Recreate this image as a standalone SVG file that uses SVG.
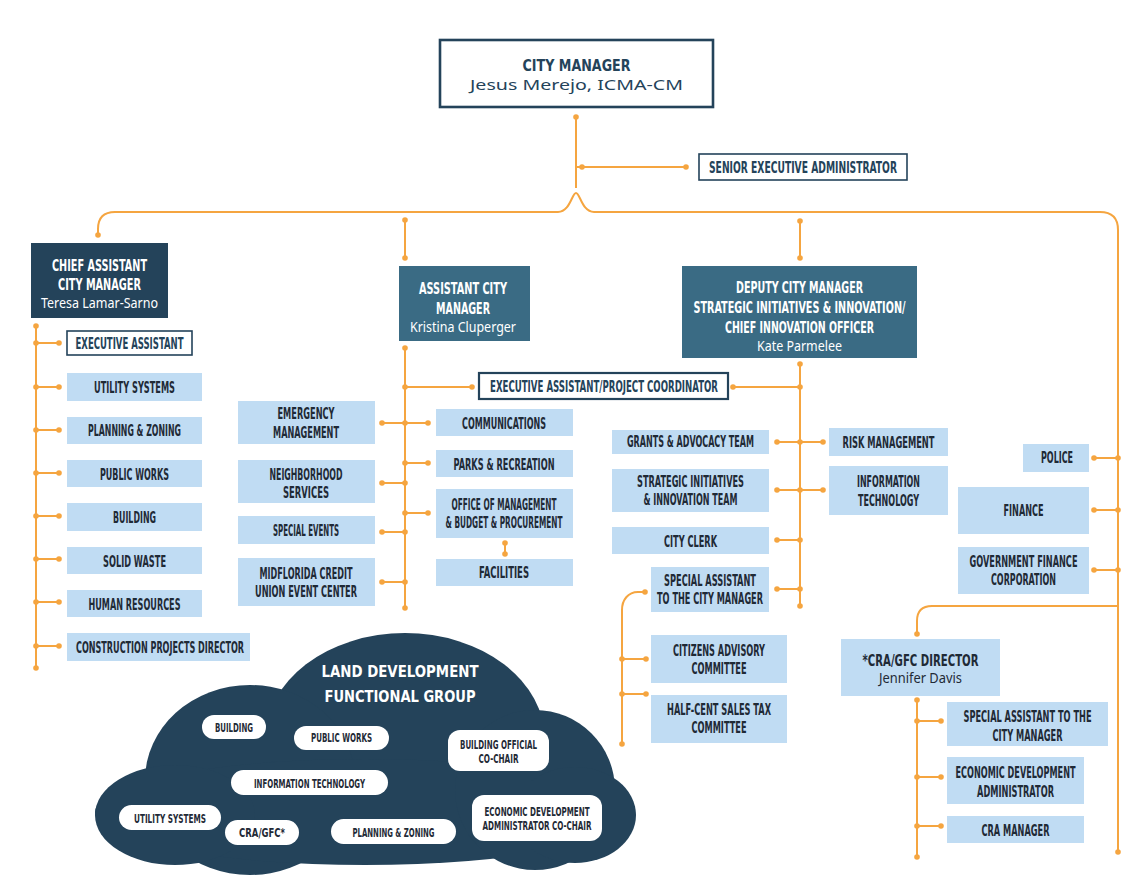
<svg xmlns="http://www.w3.org/2000/svg" width="1138" height="877" viewBox="0 0 1138 877">
<style>
.ln{fill:none;stroke:#f5a540;stroke-width:2}
.dot{fill:#f5a540}
.lb{fill:#c0dcf3}
.dk{fill:#24435a}
.tl{fill:#3a6b84}
.ob{fill:#fff;stroke:#24435a;stroke-width:1.6}
.pill{fill:#fff}
.t{font-family:"DejaVu Sans Condensed","Liberation Sans Narrow","Liberation Sans",sans-serif;font-weight:bold;text-anchor:middle;font-size:15px}
.nm{font-family:"Noto Sans","Open Sans","Liberation Sans",sans-serif;font-weight:normal;text-anchor:middle;font-size:13.5px}
.td{fill:#1f2a36}
.tw{fill:#fff}
.tn{fill:#24435a}
.s{font-size:12.5px}
</style>
<rect width="1138" height="877" fill="#fff"/>

<g id="connectors">
<path class="ln" d="M576,117 V188"/>
<path class="ln" d="M98,235 V229 Q98,212 115,212 H558 C570,212 572,193 576,193 C580,193 582,212 594,212 H1100 Q1118,212 1118,230 V852"/>
<path class="ln" d="M576,167 H686"/>
<path class="ln" d="M405,220 V258"/>
<path class="ln" d="M800,221 V258"/>
<path class="ln" d="M36,326 V668 M36,343 H59 M36,387 H59 M36,430 H59 M36,473 H59 M36,516 H59 M36,559 H59 M36,602 H59 M36,646 H59"/>
<path class="ln" d="M405,348 V608 M405,387 H472 M382,423 H428 M405,463 H428 M382,483 H405 M405,513 H428 M382,532 H405 M382,582 H405 M505,543 V554"/>
<path class="ln" d="M733,387 H800"/>
<path class="ln" d="M800,364 V606 M777,442 H823 M777,490 H823 M777,540 H800 M777,589 H800"/>
<path class="ln" d="M645,592 H638 C628,592 622,600 622,610 V744 M622,659 H646 M622,694 H646"/>
<path class="ln" d="M1094,458 H1118 M1094,510 H1118 M1094,570 H1118"/>
<path class="ln" d="M1118,606 H932 Q917,606 917,621 V634"/>
<path class="ln" d="M917,700 V857 M917,721 H941 M917,777 H941 M917,826 H941"/>
<g class="dot">
<circle cx="576" cy="117" r="2.8"/><circle cx="582" cy="167" r="2.8"/><circle cx="686" cy="167" r="2.8"/>
<circle cx="98" cy="235" r="2.8"/><circle cx="405" cy="220" r="2.8"/><circle cx="405" cy="258" r="2.8"/>
<circle cx="800" cy="221" r="2.8"/><circle cx="800" cy="258" r="2.8"/><circle cx="1118" cy="852" r="2.8"/>
<circle cx="36" cy="326" r="2.8"/><circle cx="36" cy="668" r="2.8"/>
<circle cx="36" cy="343" r="2.8"/><circle cx="59" cy="343" r="2.8"/>
<circle cx="36" cy="387" r="2.8"/><circle cx="59" cy="387" r="2.8"/>
<circle cx="36" cy="430" r="2.8"/><circle cx="59" cy="430" r="2.8"/>
<circle cx="36" cy="473" r="2.8"/><circle cx="59" cy="473" r="2.8"/>
<circle cx="36" cy="516" r="2.8"/><circle cx="59" cy="516" r="2.8"/>
<circle cx="36" cy="559" r="2.8"/><circle cx="59" cy="559" r="2.8"/>
<circle cx="36" cy="602" r="2.8"/><circle cx="59" cy="602" r="2.8"/>
<circle cx="36" cy="646" r="2.8"/><circle cx="59" cy="646" r="2.8"/>
<circle cx="405" cy="348" r="2.8"/><circle cx="405" cy="608" r="2.8"/>
<circle cx="405" cy="387" r="2.8"/><circle cx="472" cy="387" r="2.8"/>
<circle cx="382" cy="423" r="2.8"/><circle cx="405" cy="423" r="2.8"/><circle cx="428" cy="423" r="2.8"/>
<circle cx="405" cy="463" r="2.8"/><circle cx="428" cy="463" r="2.8"/>
<circle cx="382" cy="483" r="2.8"/><circle cx="405" cy="483" r="2.8"/>
<circle cx="405" cy="513" r="2.8"/><circle cx="428" cy="513" r="2.8"/>
<circle cx="382" cy="532" r="2.8"/><circle cx="405" cy="532" r="2.8"/>
<circle cx="382" cy="582" r="2.8"/><circle cx="405" cy="582" r="2.8"/>
<circle cx="505" cy="543" r="2.8"/><circle cx="505" cy="554" r="2.8"/>
<circle cx="733" cy="387" r="2.8"/><circle cx="800" cy="387" r="2.8"/>
<circle cx="800" cy="364" r="2.8"/><circle cx="800" cy="606" r="2.8"/>
<circle cx="777" cy="442" r="2.8"/><circle cx="800" cy="442" r="2.8"/><circle cx="823" cy="442" r="2.8"/>
<circle cx="777" cy="490" r="2.8"/><circle cx="800" cy="490" r="2.8"/><circle cx="823" cy="490" r="2.8"/>
<circle cx="777" cy="540" r="2.8"/><circle cx="800" cy="540" r="2.8"/>
<circle cx="777" cy="589" r="2.8"/><circle cx="800" cy="589" r="2.8"/>
<circle cx="645" cy="592" r="2.8"/><circle cx="622" cy="744" r="2.8"/>
<circle cx="622" cy="659" r="2.8"/><circle cx="646" cy="659" r="2.8"/>
<circle cx="622" cy="694" r="2.8"/><circle cx="646" cy="694" r="2.8"/>
<circle cx="1094" cy="458" r="2.8"/><circle cx="1118" cy="458" r="2.8"/>
<circle cx="1094" cy="510" r="2.8"/><circle cx="1118" cy="510" r="2.8"/>
<circle cx="1094" cy="570" r="2.8"/><circle cx="1118" cy="570" r="2.8"/>
<circle cx="917" cy="634" r="2.8"/><circle cx="917" cy="700" r="2.8"/><circle cx="917" cy="857" r="2.8"/>
<circle cx="917" cy="721" r="2.8"/><circle cx="941" cy="721" r="2.8"/>
<circle cx="917" cy="777" r="2.8"/><circle cx="941" cy="777" r="2.8"/>
<circle cx="917" cy="826" r="2.8"/><circle cx="941" cy="826" r="2.8"/>
</g>
</g>

<g id="city-manager">
<rect x="440" y="40" width="273" height="67" fill="#fff" stroke="#24435a" stroke-width="2.6"/>
<text class="t tn" x="576.5" y="71" font-size="24" textLength="108" lengthAdjust="spacingAndGlyphs">CITY MANAGER</text>
<text class="nm tn" x="576.5" y="90" font-size="18.5" textLength="213" lengthAdjust="spacingAndGlyphs">Jesus Merejo, ICMA-CM</text>
</g>
<g id="senior-executive-administrator">
<rect class="ob" x="699" y="154" width="208" height="26"/>
<text class="t tn" x="803" y="173" font-size="16.5" textLength="188" lengthAdjust="spacingAndGlyphs">SENIOR EXECUTIVE ADMINISTRATOR</text>
</g>

<g id="chief-assistant-city-manager">
<rect class="dk" x="31" y="243" width="137" height="75"/>
<text class="t tw" x="99.5" y="271" font-size="18" textLength="95" lengthAdjust="spacingAndGlyphs">CHIEF ASSISTANT</text>
<text class="t tw" x="99.5" y="290" font-size="18" textLength="83" lengthAdjust="spacingAndGlyphs">CITY MANAGER</text>
<text class="nm tw" x="99.5" y="308" textLength="117" lengthAdjust="spacingAndGlyphs">Teresa Lamar-Sarno</text>
</g>
<g id="executive-assistant">
<rect class="ob" x="67" y="331" width="125" height="24"/>
<text class="t tn" x="129.5" y="349" font-size="16" textLength="108" lengthAdjust="spacingAndGlyphs">EXECUTIVE ASSISTANT</text>
</g>
<g id="utility-systems"><rect class="lb" x="67" y="373" width="135" height="28"/><text class="t td" x="134.5" y="393" textLength="81" lengthAdjust="spacingAndGlyphs">UTILITY SYSTEMS</text></g>
<g id="planning-zoning"><rect class="lb" x="67" y="417" width="135" height="27"/><text class="t td" x="134.5" y="436" textLength="93" lengthAdjust="spacingAndGlyphs">PLANNING &amp; ZONING</text></g>
<g id="public-works"><rect class="lb" x="67" y="460" width="135" height="27"/><text class="t td" x="134.5" y="480" textLength="69" lengthAdjust="spacingAndGlyphs">PUBLIC WORKS</text></g>
<g id="building"><rect class="lb" x="67" y="503" width="135" height="28"/><text class="t td" x="134.5" y="523" textLength="43" lengthAdjust="spacingAndGlyphs">BUILDING</text></g>
<g id="solid-waste"><rect class="lb" x="67" y="547" width="135" height="27"/><text class="t td" x="134.5" y="567" textLength="63" lengthAdjust="spacingAndGlyphs">SOLID WASTE</text></g>
<g id="human-resources"><rect class="lb" x="67" y="590" width="135" height="27"/><text class="t td" x="134.5" y="610" textLength="92" lengthAdjust="spacingAndGlyphs">HUMAN RESOURCES</text></g>
<g id="construction-projects-director"><rect class="lb" x="67" y="633" width="183" height="28"/><text class="t td" x="160" y="653" textLength="168" lengthAdjust="spacingAndGlyphs">CONSTRUCTION PROJECTS DIRECTOR</text></g>

<g id="assistant-city-manager">
<rect class="tl" x="399" y="266" width="131" height="75"/>
<text class="t tw" x="463" y="294" font-size="18" textLength="88" lengthAdjust="spacingAndGlyphs">ASSISTANT CITY</text>
<text class="t tw" x="463" y="314" font-size="18" textLength="54" lengthAdjust="spacingAndGlyphs">MANAGER</text>
<text class="nm tw" x="463" y="332" textLength="106" lengthAdjust="spacingAndGlyphs">Kristina Cluperger</text>
</g>
<g id="executive-assistant-project-coordinator">
<rect x="479" y="373" width="249" height="26" fill="#fff" stroke="#24435a" stroke-width="2.2"/>
<text class="t tn" x="604" y="392" font-size="16" textLength="228" lengthAdjust="spacingAndGlyphs">EXECUTIVE ASSISTANT/PROJECT COORDINATOR</text>
</g>
<g id="emergency-management"><rect class="lb" x="238" y="401" width="137" height="43"/><text class="t td" x="306" y="419" textLength="57" lengthAdjust="spacingAndGlyphs">EMERGENCY</text><text class="t td" x="306" y="438" textLength="66" lengthAdjust="spacingAndGlyphs">MANAGEMENT</text></g>
<g id="communications"><rect class="lb" x="436" y="409" width="137" height="27"/><text class="t td" x="504" y="429" textLength="84" lengthAdjust="spacingAndGlyphs">COMMUNICATIONS</text></g>
<g id="parks-recreation"><rect class="lb" x="436" y="450" width="137" height="27"/><text class="t td" x="504" y="470" textLength="101" lengthAdjust="spacingAndGlyphs">PARKS &amp; RECREATION</text></g>
<g id="neighborhood-services"><rect class="lb" x="238" y="460" width="137" height="43"/><text class="t td" x="306" y="480" textLength="73" lengthAdjust="spacingAndGlyphs">NEIGHBORHOOD</text><text class="t td" x="306" y="498" textLength="46" lengthAdjust="spacingAndGlyphs">SERVICES</text></g>
<g id="office-of-management-budget-procurement"><rect class="lb" x="436" y="489" width="137" height="49"/><text class="t td" x="504" y="510" font-size="14" textLength="105" lengthAdjust="spacingAndGlyphs">OFFICE OF MANAGEMENT</text><text class="t td" x="504" y="528" font-size="14" textLength="117" lengthAdjust="spacingAndGlyphs">&amp; BUDGET &amp; PROCUREMENT</text></g>
<g id="special-events"><rect class="lb" x="238" y="516" width="137" height="28"/><text class="t td" x="306" y="536" textLength="66" lengthAdjust="spacingAndGlyphs">SPECIAL EVENTS</text></g>
<g id="facilities"><rect class="lb" x="436" y="559" width="137" height="27"/><text class="t td" x="504" y="578" textLength="50" lengthAdjust="spacingAndGlyphs">FACILITIES</text></g>
<g id="midflorida-credit-union-event-center"><rect class="lb" x="238" y="558" width="137" height="48"/><text class="t td" x="306" y="579" textLength="93" lengthAdjust="spacingAndGlyphs">MIDFLORIDA CREDIT</text><text class="t td" x="306" y="597" textLength="102" lengthAdjust="spacingAndGlyphs">UNION EVENT CENTER</text></g>

<g id="deputy-city-manager">
<rect class="tl" x="682" y="266" width="235" height="92"/>
<text class="t tw" x="799.5" y="293" font-size="17" textLength="127" lengthAdjust="spacingAndGlyphs">DEPUTY CITY MANAGER</text>
<text class="t tw" x="799.5" y="313" font-size="17" textLength="212" lengthAdjust="spacingAndGlyphs">STRATEGIC INITIATIVES &amp; INNOVATION/</text>
<text class="t tw" x="799.5" y="333" font-size="17" textLength="149" lengthAdjust="spacingAndGlyphs">CHIEF INNOVATION OFFICER</text>
<text class="nm tw" x="799.5" y="351" textLength="85" lengthAdjust="spacingAndGlyphs">Kate Parmelee</text>
</g>
<g id="grants-advocacy-team"><rect class="lb" x="612" y="430" width="157" height="24"/><text class="t td" x="690.5" y="447" textLength="127" lengthAdjust="spacingAndGlyphs">GRANTS &amp; ADVOCACY TEAM</text></g>
<g id="risk-management"><rect class="lb" x="829" y="428" width="119" height="28"/><text class="t td" x="888.5" y="448" textLength="92" lengthAdjust="spacingAndGlyphs">RISK MANAGEMENT</text></g>
<g id="strategic-initiatives-innovation-team"><rect class="lb" x="612" y="469" width="157" height="43"/><text class="t td" x="690.5" y="487" textLength="107" lengthAdjust="spacingAndGlyphs">STRATEGIC INITIATIVES</text><text class="t td" x="690.5" y="505" textLength="94" lengthAdjust="spacingAndGlyphs">&amp; INNOVATION TEAM</text></g>
<g id="information-technology"><rect class="lb" x="829" y="466" width="119" height="49"/><text class="t td" x="888.5" y="487" textLength="63" lengthAdjust="spacingAndGlyphs">INFORMATION</text><text class="t td" x="888.5" y="506" textLength="61" lengthAdjust="spacingAndGlyphs">TECHNOLOGY</text></g>
<g id="city-clerk"><rect class="lb" x="612" y="527" width="157" height="27"/><text class="t td" x="690.5" y="547" textLength="53" lengthAdjust="spacingAndGlyphs">CITY CLERK</text></g>
<g id="special-assistant-to-the-city-manager"><rect class="lb" x="651" y="567" width="118" height="45"/><text class="t td" x="710" y="586" textLength="92" lengthAdjust="spacingAndGlyphs">SPECIAL ASSISTANT</text><text class="t td" x="710" y="604" textLength="106" lengthAdjust="spacingAndGlyphs">TO THE CITY MANAGER</text></g>
<g id="citizens-advisory-committee"><rect class="lb" x="651" y="635" width="136" height="48"/><text class="t td" x="719" y="656" textLength="92" lengthAdjust="spacingAndGlyphs">CITIZENS ADVISORY</text><text class="t td" x="719" y="674" textLength="55" lengthAdjust="spacingAndGlyphs">COMMITTEE</text></g>
<g id="half-cent-sales-tax-committee"><rect class="lb" x="651" y="695" width="136" height="48"/><text class="t td" x="719" y="715" textLength="104" lengthAdjust="spacingAndGlyphs">HALF-CENT SALES TAX</text><text class="t td" x="719" y="733" textLength="55" lengthAdjust="spacingAndGlyphs">COMMITTEE</text></g>

<g id="police"><rect class="lb" x="1023" y="444" width="66" height="28"/><text class="t td" x="1057" y="463" textLength="32" lengthAdjust="spacingAndGlyphs">POLICE</text></g>
<g id="finance"><rect class="lb" x="958" y="487" width="131" height="47"/><text class="t td" x="1023.5" y="516" textLength="40" lengthAdjust="spacingAndGlyphs">FINANCE</text></g>
<g id="government-finance-corporation"><rect class="lb" x="958" y="547" width="131" height="47"/><text class="t td" x="1023.5" y="567" textLength="108" lengthAdjust="spacingAndGlyphs">GOVERNMENT FINANCE</text><text class="t td" x="1023.5" y="585" textLength="65" lengthAdjust="spacingAndGlyphs">CORPORATION</text></g>

<g id="cra-gfc-director">
<rect class="lb" x="841" y="639" width="159" height="57"/>
<text class="t td" x="920.5" y="666" font-size="18" textLength="116" lengthAdjust="spacingAndGlyphs">*CRA/GFC DIRECTOR</text>
<text class="nm td" x="920.5" y="683" textLength="83" lengthAdjust="spacingAndGlyphs">Jennifer Davis</text>
</g>
<g id="special-assistant-to-the-city-manager-cra"><rect class="lb" x="947" y="702" width="161" height="44"/><text class="t td" x="1027.5" y="722" textLength="128" lengthAdjust="spacingAndGlyphs">SPECIAL ASSISTANT TO THE</text><text class="t td" x="1027.5" y="741" textLength="70" lengthAdjust="spacingAndGlyphs">CITY MANAGER</text></g>
<g id="economic-development-administrator"><rect class="lb" x="947" y="757" width="137" height="47"/><text class="t td" x="1015.5" y="778" textLength="120" lengthAdjust="spacingAndGlyphs">ECONOMIC DEVELOPMENT</text><text class="t td" x="1015.5" y="797" textLength="77" lengthAdjust="spacingAndGlyphs">ADMINISTRATOR</text></g>
<g id="cra-manager"><rect class="lb" x="947" y="816" width="137" height="27"/><text class="t td" x="1015.5" y="836" textLength="68" lengthAdjust="spacingAndGlyphs">CRA MANAGER</text></g>

<g id="land-development-functional-group">
<g class="dk">
<ellipse cx="405" cy="740" rx="140" ry="107"/>
<ellipse cx="250" cy="780" rx="105" ry="95"/>
<ellipse cx="365" cy="812" rx="270" ry="53"/>
<ellipse cx="175" cy="815" rx="80" ry="50"/>
<ellipse cx="535" cy="790" rx="80" ry="80"/>
<ellipse cx="575" cy="815" rx="61" ry="48"/>
</g>
<text class="t tw" x="400" y="677" font-size="27" textLength="157" lengthAdjust="spacingAndGlyphs">LAND DEVELOPMENT</text>
<text class="t tw" x="400" y="702" font-size="27" textLength="151" lengthAdjust="spacingAndGlyphs">FUNCTIONAL GROUP</text>
<rect class="pill" x="202" y="715" width="64" height="24" rx="12"/>
<text class="t td s" x="234" y="732" textLength="38" lengthAdjust="spacingAndGlyphs">BUILDING</text>
<rect class="pill" x="294" y="726" width="95" height="24" rx="12"/>
<text class="t td s" x="341.5" y="742" textLength="61" lengthAdjust="spacingAndGlyphs">PUBLIC WORKS</text>
<rect class="pill" x="448" y="730" width="101" height="41" rx="12"/>
<text class="t td s" x="498.5" y="749" textLength="77" lengthAdjust="spacingAndGlyphs">BUILDING OFFICIAL</text>
<text class="t td s" x="498.5" y="763" textLength="40" lengthAdjust="spacingAndGlyphs">CO-CHAIR</text>
<rect class="pill" x="231" y="770" width="157" height="25" rx="12.5"/>
<text class="t td s" x="309.5" y="788" textLength="111" lengthAdjust="spacingAndGlyphs">INFORMATION TECHNOLOGY</text>
<rect class="pill" x="119" y="805" width="102" height="25" rx="12.5"/>
<text class="t td s" x="170" y="823" textLength="72" lengthAdjust="spacingAndGlyphs">UTILITY SYSTEMS</text>
<rect class="pill" x="225" y="820" width="74" height="25" rx="12.5"/>
<text class="t td s" x="262" y="837" textLength="46" lengthAdjust="spacingAndGlyphs">CRA/GFC*</text>
<rect class="pill" x="331" y="819" width="125" height="25" rx="12.5"/>
<text class="t td s" x="393.5" y="837" textLength="82" lengthAdjust="spacingAndGlyphs">PLANNING &amp; ZONING</text>
<rect class="pill" x="472" y="795" width="130" height="46" rx="12"/>
<text class="t td s" x="537" y="816" textLength="105" lengthAdjust="spacingAndGlyphs">ECONOMIC DEVELOPMENT</text>
<text class="t td s" x="537" y="830" textLength="109" lengthAdjust="spacingAndGlyphs">ADMINISTRATOR CO-CHAIR</text>
</g>
</svg>
